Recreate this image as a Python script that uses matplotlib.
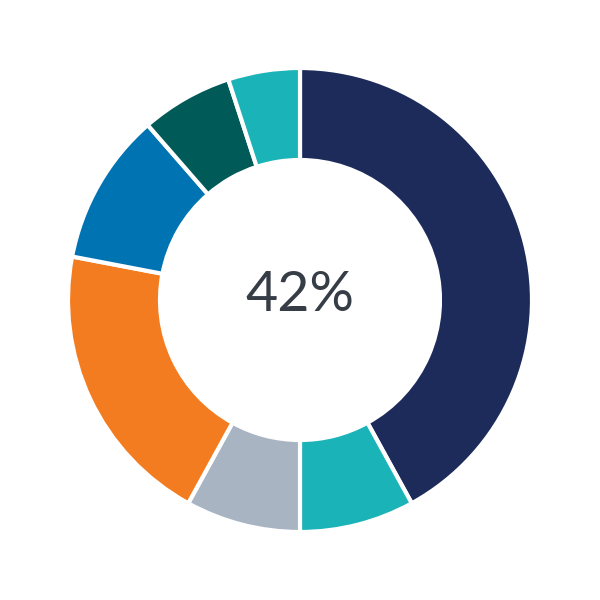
import matplotlib
matplotlib.use("Agg")
import matplotlib.pyplot as plt

labels = ["A", "B", "C", "D", "E", "F", "G"]
values = [42, 8, 8, 20, 10.6, 6.4, 5]
colors = ["#1c2b5a", "#1ab3b8", "#a8b4c2", "#f47c20", "#0073b3", "#005a57", "#1ab3b8"]
center_label = "42%"

fig = plt.figure(figsize=(6, 6), dpi=100)
ax = fig.add_axes([0, 0, 1, 1])
R = 300 / 232
ax.pie(values, colors=colors, startangle=90, counterclock=False, radius=1,
       wedgeprops=dict(width=1 - 140 / 232, edgecolor="white", linewidth=3))
ax.set_xlim(-R, R)
ax.set_ylim(-R, R)
ax.set_aspect("equal")
ax.axis("off")
ax.text(0, 0.02, center_label, ha="center", va="center", fontsize=40,
        color="#363d47", family=["Lato", "DejaVu Sans"])
fig.savefig("out.png", dpi=100, facecolor="white")
